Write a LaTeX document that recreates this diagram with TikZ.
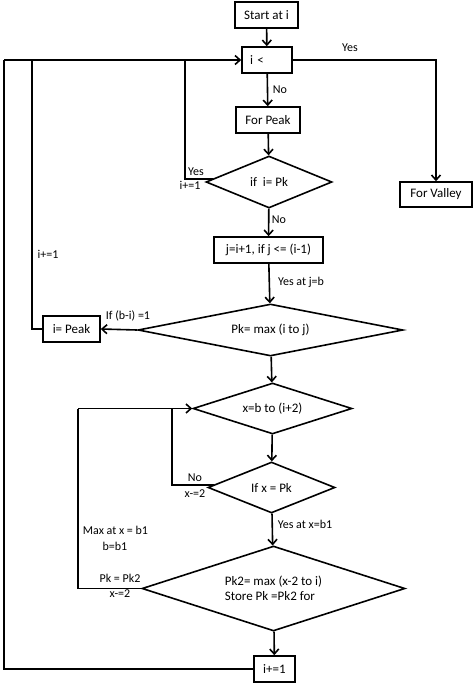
\documentclass[tikz,border=0pt]{standalone}
\usepackage{fontspec}
\setmainfont{Carlito}
\usetikzlibrary{shapes.geometric,arrows.meta,calc}
\begin{document}
\begin{tikzpicture}[x=1pt,y=-1pt, line width=1.6pt,
  >={Straight Barb[length=5pt,width=9pt]},
  box/.style={draw, rectangle, inner sep=0pt, font=\fontsize{13}{15}\selectfont},
  dia/.style={draw, diamond, inner sep=0pt, align=left, font=\fontsize{13}{15}\selectfont},
  lbl/.style={inner sep=0pt, font=\fontsize{12}{14}\selectfont}]
\useasboundingbox (0,0) rectangle (473,683);
% nodes
\node[box, minimum width=63pt, minimum height=26pt] (start) at (266.5,15) {Start at i};
\node[box, text width=34pt, inner xsep=8pt, align=left, minimum height=26pt] (ilt) at (267,60) {i <};
\node[box, minimum width=64pt, minimum height=26pt] (peak) at (268,120) {For Peak};
\node[dia, minimum width=126pt, minimum height=52pt, aspect=2.4] (d1) at (269,182) {if\ \ i= Pk};
\node[box, minimum width=72pt, minimum height=25pt] (valley) at (436,194.5) {For Valley};
\node[box, minimum width=109pt, minimum height=26pt] (jbox) at (268.5,250) {j=i+1, if j <= (i-1)};
\node[dia, minimum width=265pt, minimum height=52pt, aspect=5.1] (d2) at (270.5,330) {Pk= max (i to j)};
\node[box, minimum width=57pt, minimum height=26pt] (ipeak) at (71.5,329) {i= Peak};
\node[dia, minimum width=159pt, minimum height=51pt, aspect=3.1] (d3) at (272.5,408.5) {x=b to (i+2)};
\node[dia, minimum width=127pt, minimum height=51pt, aspect=2.5] (d4) at (271.5,487.5) {If x = Pk};
\node[dia, minimum width=263pt, minimum height=85pt, aspect=3.1] (d5) at (273.5,588.5) {Pk2= max (x-2 to i)\\Store Pk =Pk2 for};
\node[box, minimum width=41pt, minimum height=26pt] (iinc) at (274.5,669) {i+=1};
% coordinates
\coordinate (c1) at (185,60);
\coordinate (c3) at (32,60);
\coordinate (c4) at (4,60);
\coordinate (c5) at (78,408.5);
\coordinate (c6) at (172,408.5);
\coordinate (e1) at ($(d1.west)!0.12!(d1.north)$);
\coordinate (e4) at ($(d4.west)!0.1!(d4.north)$);
% main flow
\draw[->] (start) -- (ilt);
\draw[->] (ilt) -- (peak);
\draw[->] (peak) -- (d1);
\draw[->] (d1) -- (jbox);
\draw[->] (jbox) -- (d2);
\draw[->] (d2) -- (d3);
\draw[->] (d3) -- (d4);
\draw[->] (d4) -- (d5);
\draw[->] (d5) -- (iinc);
\draw[->] (ilt.east) -| (valley.north);
\draw[->] (d2.west) -- (ipeak.east);
% loops
\draw (e1) -| (c1);
\draw (ipeak.west) -| (c3);
\draw (iinc.west) -| (c4);
\draw[->] (c4) -- (ilt.west);
\draw (d5.west) -| (c5);
\draw (e4) -| (c6);
\draw[->] (c5) -- (d3.west);
% labels
\node[lbl] (l1) at (350,48) {Yes};
\node[lbl] (l2) at (280,90) {No};
\node[lbl] (l3) at (196,172) {Yes};
\node[lbl] (l4) at (190,185.5) {i+=1};
\node[lbl] (l5) at (279,220) {No};
\node[lbl] (l6) at (301,282) {Yes at j=b};
\node[lbl] (l7) at (128,316) {If (b-i) =1};
\node[lbl] (l8) at (48,254) {i+=1};
\node[lbl] (l9) at (195,478) {No};
\node[lbl] (l10) at (195,493.5) {x-=2};
\node[lbl] (l11) at (305,524) {Yes at x=b1};
\node[lbl] (l12) at (115.5,530) {Max at x = b1};
\node[lbl] (l13) at (115,546) {b=b1};
\node[lbl] (l14) at (120,578) {Pk = Pk2};
\node[lbl] (l15) at (120,594) {x-=2};
\end{tikzpicture}
\end{document}
